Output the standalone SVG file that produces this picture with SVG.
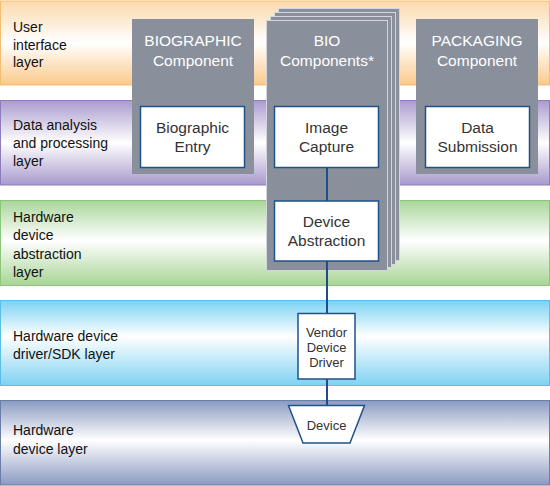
<svg xmlns="http://www.w3.org/2000/svg" width="550" height="486" viewBox="0 0 550 486">
<defs>
<linearGradient id="gUI" x1="0" y1="0" x2="0" y2="1">
<stop offset="0" stop-color="#fcd9ab"/><stop offset="0.5" stop-color="#ffffff"/><stop offset="1" stop-color="#fbc98a"/>
</linearGradient>
<linearGradient id="gDA" x1="0" y1="0" x2="0" y2="1">
<stop offset="0" stop-color="#ab9bcf"/><stop offset="0.5" stop-color="#ffffff"/><stop offset="1" stop-color="#a999cd"/>
</linearGradient>
<linearGradient id="gHA" x1="0" y1="0" x2="0" y2="1">
<stop offset="0" stop-color="#a9d69a"/><stop offset="0.47" stop-color="#ffffff"/><stop offset="1" stop-color="#a7d495"/>
</linearGradient>
<linearGradient id="gDR" x1="0" y1="0" x2="0" y2="1">
<stop offset="0" stop-color="#7ad2f2"/><stop offset="0.42" stop-color="#ffffff"/><stop offset="1" stop-color="#7fd2f2"/>
</linearGradient>
<linearGradient id="gDV" x1="0" y1="0" x2="0" y2="1">
<stop offset="0" stop-color="#8a9ac2"/><stop offset="0.47" stop-color="#ffffff"/><stop offset="1" stop-color="#8a9ac2"/>
</linearGradient>
</defs>
<style>
.lbl{font-family:"Liberation Sans",Arial,sans-serif;font-size:14px;fill:#111}
.comp{fill:#8a8f9c}
.stk{fill:#8a8f9c;stroke:#d3d6dc;stroke-width:1}
.ctitle{font-family:"Liberation Sans",Arial,sans-serif;font-size:15.5px;fill:#ffffff;text-anchor:middle}
.box{fill:#ffffff;stroke:#1f5288;stroke-width:1.5}
.btxt{font-family:"Liberation Sans",Arial,sans-serif;font-size:15.5px;fill:#333;text-anchor:middle}
.stxt{font-family:"Liberation Sans",Arial,sans-serif;font-size:13px;fill:#333;text-anchor:middle}
.conn{stroke:#1f4f80;stroke-width:2;fill:none}
</style>

<g id="layer-ui">
<rect x="0.5" y="1" width="549" height="84" fill="url(#gUI)" stroke="#f6bd72" stroke-width="1"/>
<text class="lbl" x="13" y="32">User</text>
<text class="lbl" x="13" y="50">interface</text>
<text class="lbl" x="13" y="67">layer</text>
</g>
<g id="layer-data">
<rect x="0.5" y="100.5" width="549" height="84.5" fill="url(#gDA)" stroke="#8d7cbb" stroke-width="1"/>
<text class="lbl" x="13" y="129.5">Data analysis</text>
<text class="lbl" x="13" y="147.5">and processing</text>
<text class="lbl" x="13" y="165.5">layer</text>
</g>
<g id="layer-abstraction">
<rect x="0.5" y="200.5" width="549" height="85" fill="url(#gHA)" stroke="#8cc67b" stroke-width="1"/>
<text class="lbl" x="13" y="222">Hardware</text>
<text class="lbl" x="13" y="240">device</text>
<text class="lbl" x="13" y="258.5">abstraction</text>
<text class="lbl" x="13" y="276.5">layer</text>
</g>
<g id="layer-driver">
<rect x="0.5" y="300.5" width="549" height="85" fill="url(#gDR)" stroke="#5cbde6" stroke-width="1"/>
<text class="lbl" x="13" y="341">Hardware device</text>
<text class="lbl" x="13" y="358.5">driver/SDK layer</text>
</g>
<g id="layer-device">
<rect x="0.5" y="400.5" width="549" height="84.5" fill="url(#gDV)" stroke="#6a7fa8" stroke-width="1"/>
<text class="lbl" x="13" y="435">Hardware</text>
<text class="lbl" x="13" y="453.5">device layer</text>
</g>

<g id="biographic-component">
<rect class="comp" x="132" y="19" width="122" height="155"/>
<text class="ctitle" x="193" y="46">BIOGRAPHIC</text>
<text class="ctitle" x="193" y="66">Component</text>
</g>
<g id="biographic-entry">
<rect class="box" x="140.5" y="106.5" width="104" height="61"/>
<text class="btxt" x="192.5" y="133">Biographic</text>
<text class="btxt" x="192.5" y="152">Entry</text>
</g>

<g id="bio-components">
<rect class="stk" x="278.5" y="8.5" width="121" height="252"/>
<rect class="stk" x="274.5" y="12.5" width="121" height="252"/>
<rect class="stk" x="270.5" y="16.5" width="121" height="251"/>
<rect class="stk" x="266.5" y="20.5" width="121" height="250"/>
<text class="ctitle" x="327" y="46">BIO</text>
<text class="ctitle" x="327" y="66">Components*</text>
</g>

<g id="packaging-component">
<rect class="comp" x="416" y="19" width="122" height="155"/>
<text class="ctitle" x="477" y="46">PACKAGING</text>
<text class="ctitle" x="477" y="66">Component</text>
</g>
<g id="data-submission">
<rect class="box" x="425.5" y="106.5" width="104" height="61"/>
<text class="btxt" x="477.5" y="133">Data</text>
<text class="btxt" x="477.5" y="152">Submission</text>
</g>

<g id="connectors">
<line class="conn" x1="327" y1="167" x2="327" y2="201"/>
<line class="conn" x1="327" y1="261" x2="327" y2="313"/>
<line class="conn" x1="327" y1="379" x2="327" y2="405"/>
</g>

<g id="image-capture">
<rect class="box" x="274.5" y="106.5" width="104" height="61"/>
<text class="btxt" x="326.5" y="133">Image</text>
<text class="btxt" x="326.5" y="152">Capture</text>
</g>
<g id="device-abstraction">
<rect class="box" x="274.5" y="201" width="104" height="60"/>
<text class="btxt" x="326.5" y="227">Device</text>
<text class="btxt" x="326.5" y="245.5">Abstraction</text>
</g>
<g id="vendor-device-driver">
<rect class="box" x="298" y="313.5" width="57" height="65.5"/>
<text class="stxt" x="326.5" y="337">Vendor</text>
<text class="stxt" x="326.5" y="352">Device</text>
<text class="stxt" x="326.5" y="367">Driver</text>
</g>
<g id="device">
<polygon class="box" points="288.5,405.5 364.5,405.5 350,443 303,443"/>
<text class="stxt" x="326.5" y="429.5">Device</text>
</g>
</svg>
